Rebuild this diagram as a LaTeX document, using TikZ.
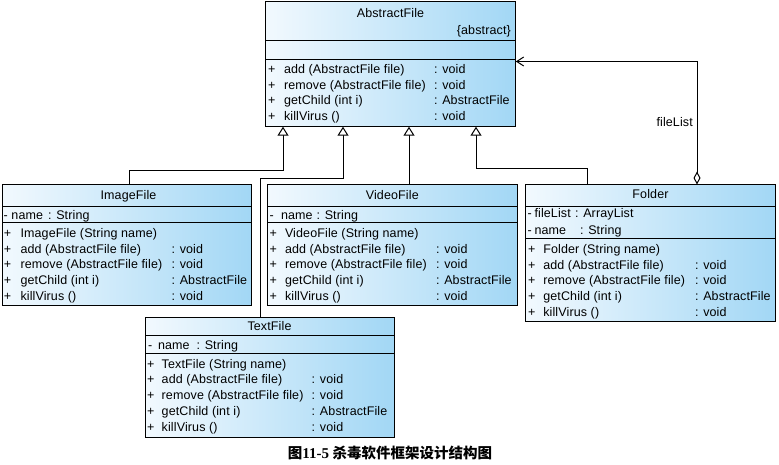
\documentclass[tikz,border=0pt]{standalone}
\usepackage{fontspec}
\newfontfamily\umlfont{Liberation Sans}[LetterSpace=1]
\newfontfamily\cjkfont{Noto Sans CJK SC}
\newfontfamily\capserif{Liberation Serif}
\usetikzlibrary{arrows.meta}
\definecolor{boxL}{RGB}{242,249,254}
\definecolor{boxR}{RGB}{162,215,245}
\tikzset{
  umlbox/.style={draw=black, line width=1pt, left color=boxL, right color=boxR,
    anchor=north west, inner sep=0pt, outer sep=0pt},
  txt/.style={anchor=base west, inner sep=0pt, outer sep=0pt},
  ttl/.style={anchor=base, inner sep=0pt, outer sep=0pt},
  sepline/.style={line width=1pt},
  gen/.style={line width=1pt, -{Triangle[open, fill=white, width=11pt, length=9pt]}},
  agg/.style={line width=1pt, {Diamond[open, fill=white, width=7pt, length=13pt]}-{Straight Barb[length=7pt, width=9pt]}},
}
% #1 prefix, #2 x of +, #3 x of name, #4 x of colon, #5 first baseline, #6 step
\newcommand\umlmeth[6]{%
  \foreach \n/\r [count=\i] in {{add (AbstractFile file)}/void,{remove (AbstractFile file)}/void,{getChild (int i)}/AbstractFile,{killVirus ()}/void}{
    \node[txt] (#1p\i) at (#2,{#5+#6*(\i-1)}) {+};
    \node[txt] (#1n\i) at (#3,{#5+#6*(\i-1)}) {\n};
    \node[txt] (#1r\i) at (#4,{#5+#6*(\i-1)}) {: \r};
  }}
\begin{document}
\begin{tikzpicture}[x=1pt, y=-1pt,
  every node/.append style={font=\umlfont\fontsize{12.5}{14}\selectfont}]
\useasboundingbox (0,0) rectangle (779,465);
\fill[white] (0,0) rectangle (779,465);

% ---------- AbstractFile ----------
\node[umlbox, minimum width=250.5, minimum height=124.7] (abs) at (265.3,2) {};
\draw[sepline] (abs.west |- 0,40.7) -- (abs.east |- 0,40.7);
\draw[sepline] (abs.west |- 0,59.3) -- (abs.east |- 0,59.3);
\node[ttl] (abst) at (390.5,17.3) {AbstractFile};
\node[anchor=base east, inner sep=0pt] (absa) at (511,35) {\{abstract\}};
\umlmeth{abs}{268}{284}{434}{74}{15.4}

% ---------- ImageFile ----------
\node[umlbox, minimum width=249.5, minimum height=120.5] (img) at (2,184.5) {};
\draw[sepline] (img.west |- 0,206.3) -- (img.east |- 0,206.3);
\draw[sepline] (img.west |- 0,222.3) -- (img.east |- 0,222.3);
\node[ttl] (imgt) at (128.5,200) {ImageFile};
\node[txt] (imgd) at (3.5,219) {-};
\node[txt] (imga) at (11.5,219) {name};
\node[txt] (imgs) at (48,219) {: String};
\node[txt] (imgcp) at (4,237.3) {+};
\node[txt] (imgcn) at (20.5,237.3) {ImageFile (String name)};
\umlmeth{img}{4}{20.5}{171.5}{253}{15.8}

% ---------- VideoFile ----------
\node[umlbox, minimum width=250, minimum height=120.5] (vid) at (267.3,184.5) {};
\draw[sepline] (vid.west |- 0,206.3) -- (vid.east |- 0,206.3);
\draw[sepline] (vid.west |- 0,222.3) -- (vid.east |- 0,222.3);
\node[ttl] (vidt) at (392.3,200) {VideoFile};
\node[txt] (vidd) at (269.5,219) {-};
\node[txt] (vida) at (281,219) {name};
\node[txt] (vids) at (316.5,219) {: String};
\node[txt] (vidcp) at (269.5,237.5) {+};
\node[txt] (vidcn) at (285,237.5) {VideoFile (String name)};
\umlmeth{vid}{269.5}{285}{436}{253}{15.8}

% ---------- Folder ----------
\node[umlbox, minimum width=249.5, minimum height=136.5] (fold) at (525.7,184.5) {};
\draw[sepline] (fold.west |- 0,206.5) -- (fold.east |- 0,206.5);
\draw[sepline] (fold.west |- 0,238.3) -- (fold.east |- 0,238.3);
\node[ttl] (foldt) at (650.5,198.8) {Folder};
\node[txt] (foldd1) at (527.5,217.7) {-};
\node[txt] (folda1) at (534.5,217.7) {fileList};
\node[txt] (folds1) at (575,217.7) {: ArrayList};
\node[txt] (foldd2) at (527.5,234.3) {-};
\node[txt] (folda2) at (534.5,234.3) {name};
\node[txt] (folds2) at (580,234.3) {: String};
\node[txt] (foldcp) at (528,253.3) {+};
\node[txt] (foldcn) at (543.3,253.3) {Folder (String name)};
\umlmeth{fold}{528}{543.3}{695}{269.1}{15.8}

% ---------- TextFile ----------
\node[umlbox, minimum width=249, minimum height=120] (txtb) at (145,317) {};
\draw[sepline] (txtb.west |- 0,335) -- (txtb.east |- 0,335);
\draw[sepline] (txtb.west |- 0,353) -- (txtb.east |- 0,353);
\node[ttl] (txtt) at (269.5,330.7) {TextFile};
\node[txt] (txtd) at (148,349.3) {-};
\node[txt] (txta) at (158,349.3) {name};
\node[txt] (txts) at (196.5,349.3) {: String};
\node[txt] (txtcp) at (147,368) {+};
\node[txt] (txtcn) at (161.7,368) {TextFile (String name)};
\umlmeth{txt}{147}{161.7}{311.7}{383.9}{15.9}

% ---------- connectors ----------
\coordinate (k1) at (129,170.7);
\coordinate (k2) at (283,170.7);
\coordinate (k3) at (260,179);
\coordinate (k4) at (343,179);
\coordinate (k5) at (409,150);
\coordinate (k6) at (587.7,169);
\coordinate (k7) at (476,169);
\coordinate (k8) at (697,61.5);

\draw[gen] (img.north -| k1) -- (k1) -- (k2) -- (abs.south -| k2);
\draw[gen] (txtb.north -| k3) -- (k3) -- (k4) -- (abs.south -| k4);
\draw[gen] (vid.north -| k5) -- (abs.south -| k5);
\draw[gen] (fold.north -| k6) -- (k6) -- (k7) -- (abs.south -| k7);
\draw[agg] (fold.north -| k8) -- (k8) -- (abs.east |- k8);
\node[anchor=base east, inner sep=0pt] (fl) at (693,127) {fileList};

% ---------- caption ----------
\node[anchor=base, inner sep=0pt] (cap) at (390,458.5)
  {\bfseries{\cjkfont\fontsize{14.5}{16}\selectfont 图}{\capserif\fontsize{15}{16}\selectfont\bfseries 11-5}\ {\cjkfont\fontsize{14.5}{16}\selectfont 杀毒软件框架设计结构图}};
\end{tikzpicture}
\end{document}
